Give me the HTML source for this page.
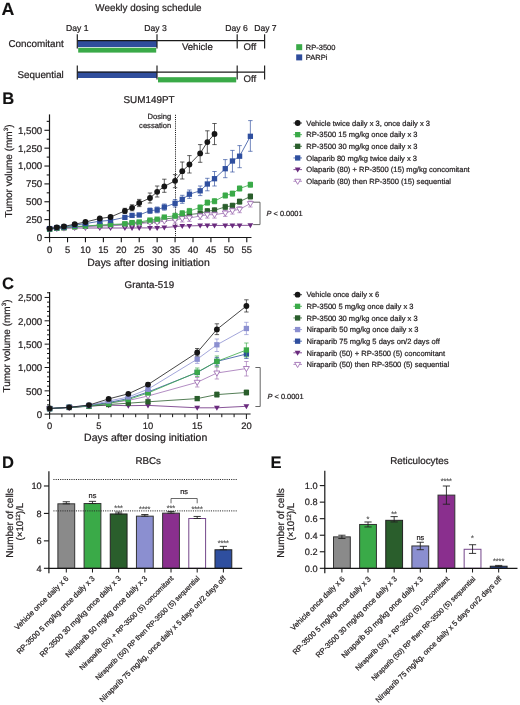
<!DOCTYPE html>
<html><head><meta charset="utf-8"><title>Figure</title>
<style>
html,body{margin:0;padding:0;background:#fff;}
body{width:520px;height:705px;overflow:hidden;}
svg{display:block;font-family:'Liberation Sans', Arial, sans-serif;text-rendering:geometricPrecision;}
text{stroke:#231f20;stroke-width:0.22px;}
</style></head>
<body>
<svg width="520" height="705" viewBox="0 0 520 705">
<rect width="520" height="705" fill="#fff"/>
<text x="1.40" y="14.90" font-size="17.8" text-anchor="start" font-weight="bold" fill="#111" style="stroke-width:0.1px">A</text>
<text x="95.30" y="10.90" font-size="9.9" text-anchor="start" font-weight="normal" fill="#231f20" >Weekly dosing schedule</text>
<text x="77.30" y="30.60" font-size="8.6" text-anchor="middle" font-weight="normal" fill="#231f20" >Day 1</text>
<text x="155.60" y="30.60" font-size="8.6" text-anchor="middle" font-weight="normal" fill="#231f20" >Day 3</text>
<text x="236.60" y="30.60" font-size="8.6" text-anchor="middle" font-weight="normal" fill="#231f20" >Day 6</text>
<text x="265.40" y="30.60" font-size="8.6" text-anchor="middle" font-weight="normal" fill="#231f20" >Day 7</text>
<text x="8.40" y="47.40" font-size="9.9" text-anchor="start" font-weight="normal" fill="#231f20" >Concomitant</text>
<text x="17.50" y="78.00" font-size="9.8" text-anchor="start" font-weight="normal" fill="#231f20" >Sequential</text>
<rect x="77.50" y="40.30" width="79.50" height="6.80" fill="#2f4d9c" stroke="none" stroke-width="0" />
<rect x="78.20" y="47.80" width="78.00" height="4.80" fill="#3aaa48" stroke="none" stroke-width="0" />
<line x1="77.30" y1="40.60" x2="264.80" y2="40.60" stroke="#1a1a1a" stroke-width="1.2" />
<line x1="77.30" y1="34.20" x2="77.30" y2="48.40" stroke="#222" stroke-width="1.2" />
<line x1="157.00" y1="34.20" x2="157.00" y2="48.40" stroke="#222" stroke-width="1.2" />
<line x1="237.20" y1="34.20" x2="237.20" y2="48.40" stroke="#222" stroke-width="1.2" />
<line x1="264.60" y1="34.20" x2="264.60" y2="48.40" stroke="#222" stroke-width="1.2" />
<text x="181.90" y="50.00" font-size="9.6" text-anchor="start" font-weight="normal" fill="#231f20" >Vehicle</text>
<text x="243.60" y="50.00" font-size="9.6" text-anchor="start" font-weight="normal" fill="#231f20" >Off</text>
<rect x="77.50" y="71.70" width="79.50" height="6.30" fill="#2f4d9c" stroke="none" stroke-width="0" />
<rect x="158.00" y="77.20" width="78.20" height="5.20" fill="#3aaa48" stroke="none" stroke-width="0" />
<line x1="77.30" y1="72.20" x2="264.80" y2="72.20" stroke="#1a1a1a" stroke-width="1.2" />
<line x1="77.30" y1="65.40" x2="77.30" y2="79.40" stroke="#222" stroke-width="1.2" />
<line x1="157.00" y1="65.40" x2="157.00" y2="79.40" stroke="#222" stroke-width="1.2" />
<line x1="237.20" y1="65.40" x2="237.20" y2="79.40" stroke="#222" stroke-width="1.2" />
<line x1="264.60" y1="65.40" x2="264.60" y2="79.40" stroke="#222" stroke-width="1.2" />
<text x="243.60" y="81.50" font-size="9.6" text-anchor="start" font-weight="normal" fill="#231f20" >Off</text>
<rect x="296.20" y="44.20" width="6.00" height="6.00" fill="#3aaa48" stroke="none" stroke-width="0" />
<rect x="296.20" y="54.40" width="6.00" height="6.00" fill="#2f4d9c" stroke="none" stroke-width="0" />
<text x="305.80" y="50.20" font-size="7.5" text-anchor="start" font-weight="normal" fill="#231f20" >RP-3500</text>
<text x="305.80" y="60.30" font-size="7.5" text-anchor="start" font-weight="normal" fill="#231f20" >PARPi</text>
<text x="2.30" y="103.90" font-size="16.6" text-anchor="start" font-weight="bold" fill="#111" style="stroke-width:0.1px">B</text>
<text x="149.00" y="102.70" font-size="9.9" text-anchor="middle" font-weight="normal" fill="#231f20" >SUM149PT</text>
<line x1="49.50" y1="114.40" x2="49.50" y2="238.00" stroke="#161616" stroke-width="1.2" />
<line x1="49.00" y1="237.50" x2="251.50" y2="237.50" stroke="#161616" stroke-width="1.2" />
<line x1="44.40" y1="237.50" x2="49.50" y2="237.50" stroke="#161616" stroke-width="1.1" />
<text x="42.20" y="240.90" font-size="9.7" text-anchor="end" font-weight="normal" fill="#231f20" >0</text>
<line x1="46.70" y1="228.57" x2="49.50" y2="228.57" stroke="#161616" stroke-width="1.1" />
<line x1="44.40" y1="219.63" x2="49.50" y2="219.63" stroke="#161616" stroke-width="1.1" />
<text x="42.20" y="223.03" font-size="9.7" text-anchor="end" font-weight="normal" fill="#231f20" >250</text>
<line x1="46.70" y1="210.70" x2="49.50" y2="210.70" stroke="#161616" stroke-width="1.1" />
<line x1="44.40" y1="201.76" x2="49.50" y2="201.76" stroke="#161616" stroke-width="1.1" />
<text x="42.20" y="205.16" font-size="9.7" text-anchor="end" font-weight="normal" fill="#231f20" >500</text>
<line x1="46.70" y1="192.83" x2="49.50" y2="192.83" stroke="#161616" stroke-width="1.1" />
<line x1="44.40" y1="183.90" x2="49.50" y2="183.90" stroke="#161616" stroke-width="1.1" />
<text x="42.20" y="187.30" font-size="9.7" text-anchor="end" font-weight="normal" fill="#231f20" >750</text>
<line x1="46.70" y1="174.96" x2="49.50" y2="174.96" stroke="#161616" stroke-width="1.1" />
<line x1="44.40" y1="166.03" x2="49.50" y2="166.03" stroke="#161616" stroke-width="1.1" />
<text x="42.20" y="169.43" font-size="9.7" text-anchor="end" font-weight="normal" fill="#231f20" >1,000</text>
<line x1="46.70" y1="157.10" x2="49.50" y2="157.10" stroke="#161616" stroke-width="1.1" />
<line x1="44.40" y1="148.16" x2="49.50" y2="148.16" stroke="#161616" stroke-width="1.1" />
<text x="42.20" y="151.56" font-size="9.7" text-anchor="end" font-weight="normal" fill="#231f20" >1,250</text>
<line x1="46.70" y1="139.23" x2="49.50" y2="139.23" stroke="#161616" stroke-width="1.1" />
<line x1="44.40" y1="130.29" x2="49.50" y2="130.29" stroke="#161616" stroke-width="1.1" />
<text x="42.20" y="133.69" font-size="9.7" text-anchor="end" font-weight="normal" fill="#231f20" >1,500</text>
<line x1="46.70" y1="121.36" x2="49.50" y2="121.36" stroke="#161616" stroke-width="1.1" />
<line x1="49.60" y1="237.50" x2="49.60" y2="242.30" stroke="#161616" stroke-width="1.1" />
<text x="49.60" y="253.40" font-size="9.4" text-anchor="middle" font-weight="normal" fill="#231f20" >0</text>
<line x1="67.53" y1="237.50" x2="67.53" y2="242.30" stroke="#161616" stroke-width="1.1" />
<text x="67.53" y="253.40" font-size="9.4" text-anchor="middle" font-weight="normal" fill="#231f20" >5</text>
<line x1="85.45" y1="237.50" x2="85.45" y2="242.30" stroke="#161616" stroke-width="1.1" />
<text x="85.45" y="253.40" font-size="9.4" text-anchor="middle" font-weight="normal" fill="#231f20" >10</text>
<line x1="103.38" y1="237.50" x2="103.38" y2="242.30" stroke="#161616" stroke-width="1.1" />
<text x="103.38" y="253.40" font-size="9.4" text-anchor="middle" font-weight="normal" fill="#231f20" >15</text>
<line x1="121.30" y1="237.50" x2="121.30" y2="242.30" stroke="#161616" stroke-width="1.1" />
<text x="121.30" y="253.40" font-size="9.4" text-anchor="middle" font-weight="normal" fill="#231f20" >20</text>
<line x1="139.22" y1="237.50" x2="139.22" y2="242.30" stroke="#161616" stroke-width="1.1" />
<text x="139.22" y="253.40" font-size="9.4" text-anchor="middle" font-weight="normal" fill="#231f20" >25</text>
<line x1="157.15" y1="237.50" x2="157.15" y2="242.30" stroke="#161616" stroke-width="1.1" />
<text x="157.15" y="253.40" font-size="9.4" text-anchor="middle" font-weight="normal" fill="#231f20" >30</text>
<line x1="175.07" y1="237.50" x2="175.07" y2="242.30" stroke="#161616" stroke-width="1.1" />
<text x="175.07" y="253.40" font-size="9.4" text-anchor="middle" font-weight="normal" fill="#231f20" >35</text>
<line x1="193.00" y1="237.50" x2="193.00" y2="242.30" stroke="#161616" stroke-width="1.1" />
<text x="193.00" y="253.40" font-size="9.4" text-anchor="middle" font-weight="normal" fill="#231f20" >40</text>
<line x1="210.92" y1="237.50" x2="210.92" y2="242.30" stroke="#161616" stroke-width="1.1" />
<text x="210.92" y="253.40" font-size="9.4" text-anchor="middle" font-weight="normal" fill="#231f20" >45</text>
<line x1="228.85" y1="237.50" x2="228.85" y2="242.30" stroke="#161616" stroke-width="1.1" />
<text x="228.85" y="253.40" font-size="9.4" text-anchor="middle" font-weight="normal" fill="#231f20" >50</text>
<line x1="246.78" y1="237.50" x2="246.78" y2="242.30" stroke="#161616" stroke-width="1.1" />
<text x="246.78" y="253.40" font-size="9.4" text-anchor="middle" font-weight="normal" fill="#231f20" >55</text>
<text x="87.30" y="265.60" font-size="10.45" text-anchor="start" font-weight="normal" fill="#231f20" >Days after dosing initiation</text>
<text transform="translate(12.0,217.6) rotate(-90)" font-size="10" fill="#231f20">Tumor volume (mm<tspan font-size="6.2" dy="-3.6">3</tspan><tspan dy="3.6">)</tspan></text>
<line x1="175.50" y1="114.80" x2="175.50" y2="237.00" stroke="#111" stroke-width="1.0" stroke-dasharray="1.05,1.1"/>
<text x="171.20" y="119.30" font-size="7.6" text-anchor="end" font-weight="normal" fill="#231f20" >Dosing</text>
<text x="171.20" y="128.40" font-size="7.6" text-anchor="end" font-weight="normal" fill="#231f20" >cessation</text>
<polyline points="49.60,229.10 56.77,228.20 63.94,227.80 74.69,226.80 85.45,226.30 99.79,225.50 110.55,225.20 124.88,224.40 132.06,223.40 139.22,223.00 149.98,221.40 157.15,220.80 164.32,219.00 175.07,217.80 182.25,216.00 189.41,214.50 200.17,213.40 207.34,211.10 214.51,210.30 225.26,206.90 232.44,205.70 239.60,201.60 250.36,196.50" fill="none" stroke="#2a5e2c" stroke-width="0.8"/>
<path d="M197.97,210.80H202.37M200.17,210.80V216.00M197.97,216.00H202.37" stroke="#2a5e2c" stroke-width="0.85" stroke-opacity="0.8" fill="none"/>
<path d="M205.14,208.50H209.54M207.34,208.50V213.70M205.14,213.70H209.54" stroke="#2a5e2c" stroke-width="0.85" stroke-opacity="0.8" fill="none"/>
<path d="M212.31,207.70H216.71M214.51,207.70V212.90M212.31,212.90H216.71" stroke="#2a5e2c" stroke-width="0.85" stroke-opacity="0.8" fill="none"/>
<path d="M223.06,204.30H227.46M225.26,204.30V209.50M223.06,209.50H227.46" stroke="#2a5e2c" stroke-width="0.85" stroke-opacity="0.8" fill="none"/>
<path d="M230.24,203.10H234.63M232.44,203.10V208.30M230.24,208.30H234.63" stroke="#2a5e2c" stroke-width="0.85" stroke-opacity="0.8" fill="none"/>
<path d="M237.41,199.00H241.80M239.60,199.00V204.20M237.41,204.20H241.80" stroke="#2a5e2c" stroke-width="0.85" stroke-opacity="0.8" fill="none"/>
<path d="M248.16,193.90H252.56M250.36,193.90V199.10M248.16,199.10H252.56" stroke="#2a5e2c" stroke-width="0.85" stroke-opacity="0.8" fill="none"/>
<rect x="46.95" y="226.45" width="5.30" height="5.30" fill="#2a5e2c"/>
<rect x="54.12" y="225.55" width="5.30" height="5.30" fill="#2a5e2c"/>
<rect x="61.29" y="225.15" width="5.30" height="5.30" fill="#2a5e2c"/>
<rect x="72.04" y="224.15" width="5.30" height="5.30" fill="#2a5e2c"/>
<rect x="82.80" y="223.65" width="5.30" height="5.30" fill="#2a5e2c"/>
<rect x="97.14" y="222.85" width="5.30" height="5.30" fill="#2a5e2c"/>
<rect x="107.89" y="222.55" width="5.30" height="5.30" fill="#2a5e2c"/>
<rect x="122.23" y="221.75" width="5.30" height="5.30" fill="#2a5e2c"/>
<rect x="129.41" y="220.75" width="5.30" height="5.30" fill="#2a5e2c"/>
<rect x="136.57" y="220.35" width="5.30" height="5.30" fill="#2a5e2c"/>
<rect x="147.33" y="218.75" width="5.30" height="5.30" fill="#2a5e2c"/>
<rect x="154.50" y="218.15" width="5.30" height="5.30" fill="#2a5e2c"/>
<rect x="161.67" y="216.35" width="5.30" height="5.30" fill="#2a5e2c"/>
<rect x="172.42" y="215.15" width="5.30" height="5.30" fill="#2a5e2c"/>
<rect x="179.59" y="213.35" width="5.30" height="5.30" fill="#2a5e2c"/>
<rect x="186.76" y="211.85" width="5.30" height="5.30" fill="#2a5e2c"/>
<rect x="197.52" y="210.75" width="5.30" height="5.30" fill="#2a5e2c"/>
<rect x="204.69" y="208.45" width="5.30" height="5.30" fill="#2a5e2c"/>
<rect x="211.86" y="207.65" width="5.30" height="5.30" fill="#2a5e2c"/>
<rect x="222.61" y="204.25" width="5.30" height="5.30" fill="#2a5e2c"/>
<rect x="229.78" y="203.05" width="5.30" height="5.30" fill="#2a5e2c"/>
<rect x="236.95" y="198.95" width="5.30" height="5.30" fill="#2a5e2c"/>
<rect x="247.71" y="193.85" width="5.30" height="5.30" fill="#2a5e2c"/>
<polyline points="49.60,229.20 56.77,228.40 63.94,228.20 74.69,228.00 85.45,228.00 99.79,228.00 110.55,228.00 124.88,228.00 132.06,228.00 139.22,227.90 149.98,227.90 157.15,228.00 164.32,227.50 175.07,226.70 182.25,225.90 189.41,225.90 200.17,225.60 207.34,225.50 214.51,225.40 225.26,225.50 232.44,225.40 239.60,225.40 250.36,225.30" fill="none" stroke="#6a2a7e" stroke-width="0.8"/>
<polygon points="46.70,227.20 52.50,227.20 49.60,232.20" fill="#6a2a7e"/>
<polygon points="53.87,226.40 59.67,226.40 56.77,231.40" fill="#6a2a7e"/>
<polygon points="61.04,226.20 66.84,226.20 63.94,231.20" fill="#6a2a7e"/>
<polygon points="71.79,226.00 77.59,226.00 74.69,231.00" fill="#6a2a7e"/>
<polygon points="82.55,226.00 88.35,226.00 85.45,231.00" fill="#6a2a7e"/>
<polygon points="96.89,226.00 102.69,226.00 99.79,231.00" fill="#6a2a7e"/>
<polygon points="107.64,226.00 113.45,226.00 110.55,231.00" fill="#6a2a7e"/>
<polygon points="121.98,226.00 127.78,226.00 124.88,231.00" fill="#6a2a7e"/>
<polygon points="129.16,226.00 134.96,226.00 132.06,231.00" fill="#6a2a7e"/>
<polygon points="136.32,225.90 142.12,225.90 139.22,230.90" fill="#6a2a7e"/>
<polygon points="147.08,225.90 152.88,225.90 149.98,230.90" fill="#6a2a7e"/>
<polygon points="154.25,226.00 160.05,226.00 157.15,231.00" fill="#6a2a7e"/>
<polygon points="161.42,225.50 167.22,225.50 164.32,230.50" fill="#6a2a7e"/>
<polygon points="172.17,224.70 177.97,224.70 175.07,229.70" fill="#6a2a7e"/>
<polygon points="179.34,223.90 185.15,223.90 182.25,228.90" fill="#6a2a7e"/>
<polygon points="186.51,223.90 192.31,223.90 189.41,228.90" fill="#6a2a7e"/>
<polygon points="197.27,223.60 203.07,223.60 200.17,228.60" fill="#6a2a7e"/>
<polygon points="204.44,223.50 210.24,223.50 207.34,228.50" fill="#6a2a7e"/>
<polygon points="211.61,223.40 217.41,223.40 214.51,228.40" fill="#6a2a7e"/>
<polygon points="222.36,223.50 228.16,223.50 225.26,228.50" fill="#6a2a7e"/>
<polygon points="229.53,223.40 235.34,223.40 232.44,228.40" fill="#6a2a7e"/>
<polygon points="236.70,223.40 242.50,223.40 239.60,228.40" fill="#6a2a7e"/>
<polygon points="247.46,223.30 253.26,223.30 250.36,228.30" fill="#6a2a7e"/>
<polyline points="49.60,229.20 56.77,228.40 63.94,228.00 74.69,227.00 85.45,226.60 99.79,226.00 110.55,225.80 124.88,225.00 132.06,224.00 139.22,223.60 149.98,222.60 157.15,222.40 164.32,221.00 175.07,219.80 182.25,218.60 189.41,218.00 200.17,216.00 207.34,214.70 214.51,214.70 225.26,213.00 232.44,210.70 239.60,209.30 250.36,203.60" fill="none" stroke="#a070b4" stroke-width="0.8"/>
<path d="M172.88,217.20H177.27M175.07,217.20V223.20M172.88,223.20H177.27" stroke="#a070b4" stroke-width="0.85" stroke-opacity="0.8" fill="none"/>
<path d="M180.05,216.00H184.44M182.25,216.00V222.00M180.05,222.00H184.44" stroke="#a070b4" stroke-width="0.85" stroke-opacity="0.8" fill="none"/>
<path d="M187.22,215.40H191.61M189.41,215.40V221.40M187.22,221.40H191.61" stroke="#a070b4" stroke-width="0.85" stroke-opacity="0.8" fill="none"/>
<path d="M197.97,213.40H202.37M200.17,213.40V219.40M197.97,219.40H202.37" stroke="#a070b4" stroke-width="0.85" stroke-opacity="0.8" fill="none"/>
<path d="M205.14,212.10H209.54M207.34,212.10V218.10M205.14,218.10H209.54" stroke="#a070b4" stroke-width="0.85" stroke-opacity="0.8" fill="none"/>
<path d="M212.31,212.10H216.71M214.51,212.10V218.10M212.31,218.10H216.71" stroke="#a070b4" stroke-width="0.85" stroke-opacity="0.8" fill="none"/>
<path d="M223.06,210.40H227.46M225.26,210.40V216.40M223.06,216.40H227.46" stroke="#a070b4" stroke-width="0.85" stroke-opacity="0.8" fill="none"/>
<path d="M230.24,208.10H234.63M232.44,208.10V214.10M230.24,214.10H234.63" stroke="#a070b4" stroke-width="0.85" stroke-opacity="0.8" fill="none"/>
<path d="M237.41,206.70H241.80M239.60,206.70V212.70M237.41,212.70H241.80" stroke="#a070b4" stroke-width="0.85" stroke-opacity="0.8" fill="none"/>
<path d="M248.16,201.00H252.56M250.36,201.00V207.00M248.16,207.00H252.56" stroke="#a070b4" stroke-width="0.85" stroke-opacity="0.8" fill="none"/>
<polygon points="46.60,227.20 52.60,227.20 49.60,232.30" fill="#fff" stroke="#a070b4" stroke-width="0.9"/>
<polygon points="53.77,226.40 59.77,226.40 56.77,231.50" fill="#fff" stroke="#a070b4" stroke-width="0.9"/>
<polygon points="60.94,226.00 66.94,226.00 63.94,231.10" fill="#fff" stroke="#a070b4" stroke-width="0.9"/>
<polygon points="71.69,225.00 77.69,225.00 74.69,230.10" fill="#fff" stroke="#a070b4" stroke-width="0.9"/>
<polygon points="82.45,224.60 88.45,224.60 85.45,229.70" fill="#fff" stroke="#a070b4" stroke-width="0.9"/>
<polygon points="96.79,224.00 102.79,224.00 99.79,229.10" fill="#fff" stroke="#a070b4" stroke-width="0.9"/>
<polygon points="107.55,223.80 113.55,223.80 110.55,228.90" fill="#fff" stroke="#a070b4" stroke-width="0.9"/>
<polygon points="121.88,223.00 127.88,223.00 124.88,228.10" fill="#fff" stroke="#a070b4" stroke-width="0.9"/>
<polygon points="129.06,222.00 135.06,222.00 132.06,227.10" fill="#fff" stroke="#a070b4" stroke-width="0.9"/>
<polygon points="136.22,221.60 142.22,221.60 139.22,226.70" fill="#fff" stroke="#a070b4" stroke-width="0.9"/>
<polygon points="146.98,220.60 152.98,220.60 149.98,225.70" fill="#fff" stroke="#a070b4" stroke-width="0.9"/>
<polygon points="154.15,220.40 160.15,220.40 157.15,225.50" fill="#fff" stroke="#a070b4" stroke-width="0.9"/>
<polygon points="161.32,219.00 167.32,219.00 164.32,224.10" fill="#fff" stroke="#a070b4" stroke-width="0.9"/>
<polygon points="172.07,217.80 178.07,217.80 175.07,222.90" fill="#fff" stroke="#a070b4" stroke-width="0.9"/>
<polygon points="179.25,216.60 185.25,216.60 182.25,221.70" fill="#fff" stroke="#a070b4" stroke-width="0.9"/>
<polygon points="186.41,216.00 192.41,216.00 189.41,221.10" fill="#fff" stroke="#a070b4" stroke-width="0.9"/>
<polygon points="197.17,214.00 203.17,214.00 200.17,219.10" fill="#fff" stroke="#a070b4" stroke-width="0.9"/>
<polygon points="204.34,212.70 210.34,212.70 207.34,217.80" fill="#fff" stroke="#a070b4" stroke-width="0.9"/>
<polygon points="211.51,212.70 217.51,212.70 214.51,217.80" fill="#fff" stroke="#a070b4" stroke-width="0.9"/>
<polygon points="222.26,211.00 228.26,211.00 225.26,216.10" fill="#fff" stroke="#a070b4" stroke-width="0.9"/>
<polygon points="229.44,208.70 235.44,208.70 232.44,213.80" fill="#fff" stroke="#a070b4" stroke-width="0.9"/>
<polygon points="236.60,207.30 242.60,207.30 239.60,212.40" fill="#fff" stroke="#a070b4" stroke-width="0.9"/>
<polygon points="247.36,201.60 253.36,201.60 250.36,206.70" fill="#fff" stroke="#a070b4" stroke-width="0.9"/>
<polyline points="49.60,229.00 56.77,228.00 63.94,227.50 74.69,226.50 85.45,226.00 99.79,225.00 110.55,224.50 124.88,223.80 132.06,222.60 139.22,222.00 149.98,220.10 157.15,219.20 164.32,217.10 175.07,215.80 182.25,213.30 189.41,211.00 200.17,207.50 207.34,202.60 214.51,201.20 225.26,195.50 232.44,193.60 239.60,188.50 250.36,184.70" fill="none" stroke="#3aaa48" stroke-width="0.8"/>
<path d="M172.88,213.20H177.27M175.07,213.20V218.40M172.88,218.40H177.27" stroke="#3aaa48" stroke-width="0.85" stroke-opacity="0.8" fill="none"/>
<path d="M180.05,210.70H184.44M182.25,210.70V215.90M180.05,215.90H184.44" stroke="#3aaa48" stroke-width="0.85" stroke-opacity="0.8" fill="none"/>
<path d="M187.22,208.40H191.61M189.41,208.40V213.60M187.22,213.60H191.61" stroke="#3aaa48" stroke-width="0.85" stroke-opacity="0.8" fill="none"/>
<path d="M197.97,204.90H202.37M200.17,204.90V210.10M197.97,210.10H202.37" stroke="#3aaa48" stroke-width="0.85" stroke-opacity="0.8" fill="none"/>
<path d="M205.14,200.00H209.54M207.34,200.00V205.20M205.14,205.20H209.54" stroke="#3aaa48" stroke-width="0.85" stroke-opacity="0.8" fill="none"/>
<path d="M212.31,198.60H216.71M214.51,198.60V203.80M212.31,203.80H216.71" stroke="#3aaa48" stroke-width="0.85" stroke-opacity="0.8" fill="none"/>
<path d="M223.06,192.90H227.46M225.26,192.90V198.10M223.06,198.10H227.46" stroke="#3aaa48" stroke-width="0.85" stroke-opacity="0.8" fill="none"/>
<path d="M230.24,191.00H234.63M232.44,191.00V196.20M230.24,196.20H234.63" stroke="#3aaa48" stroke-width="0.85" stroke-opacity="0.8" fill="none"/>
<path d="M237.41,185.90H241.80M239.60,185.90V191.10M237.41,191.10H241.80" stroke="#3aaa48" stroke-width="0.85" stroke-opacity="0.8" fill="none"/>
<path d="M248.16,182.10H252.56M250.36,182.10V187.30M248.16,187.30H252.56" stroke="#3aaa48" stroke-width="0.85" stroke-opacity="0.8" fill="none"/>
<rect x="46.95" y="226.35" width="5.30" height="5.30" fill="#3aaa48"/>
<rect x="54.12" y="225.35" width="5.30" height="5.30" fill="#3aaa48"/>
<rect x="61.29" y="224.85" width="5.30" height="5.30" fill="#3aaa48"/>
<rect x="72.04" y="223.85" width="5.30" height="5.30" fill="#3aaa48"/>
<rect x="82.80" y="223.35" width="5.30" height="5.30" fill="#3aaa48"/>
<rect x="97.14" y="222.35" width="5.30" height="5.30" fill="#3aaa48"/>
<rect x="107.89" y="221.85" width="5.30" height="5.30" fill="#3aaa48"/>
<rect x="122.23" y="221.15" width="5.30" height="5.30" fill="#3aaa48"/>
<rect x="129.41" y="219.95" width="5.30" height="5.30" fill="#3aaa48"/>
<rect x="136.57" y="219.35" width="5.30" height="5.30" fill="#3aaa48"/>
<rect x="147.33" y="217.45" width="5.30" height="5.30" fill="#3aaa48"/>
<rect x="154.50" y="216.55" width="5.30" height="5.30" fill="#3aaa48"/>
<rect x="161.67" y="214.45" width="5.30" height="5.30" fill="#3aaa48"/>
<rect x="172.42" y="213.15" width="5.30" height="5.30" fill="#3aaa48"/>
<rect x="179.59" y="210.65" width="5.30" height="5.30" fill="#3aaa48"/>
<rect x="186.76" y="208.35" width="5.30" height="5.30" fill="#3aaa48"/>
<rect x="197.52" y="204.85" width="5.30" height="5.30" fill="#3aaa48"/>
<rect x="204.69" y="199.95" width="5.30" height="5.30" fill="#3aaa48"/>
<rect x="211.86" y="198.55" width="5.30" height="5.30" fill="#3aaa48"/>
<rect x="222.61" y="192.85" width="5.30" height="5.30" fill="#3aaa48"/>
<rect x="229.78" y="190.95" width="5.30" height="5.30" fill="#3aaa48"/>
<rect x="236.95" y="185.85" width="5.30" height="5.30" fill="#3aaa48"/>
<rect x="247.71" y="182.05" width="5.30" height="5.30" fill="#3aaa48"/>
<polyline points="49.60,228.60 56.77,227.60 63.94,227.00 74.69,225.20 85.45,223.60 99.79,221.20 110.55,220.40 124.88,217.40 132.06,215.40 139.22,215.00 149.98,210.70 157.15,209.90 164.32,207.10 175.07,203.30 182.25,199.40 189.41,194.20 200.17,190.80 207.34,184.00 214.51,178.70 225.26,168.70 232.44,161.00 239.60,156.20 250.36,136.30" fill="none" stroke="#2f4f9f" stroke-width="0.8"/>
<path d="M147.78,208.00H152.18M149.98,208.00V213.40M147.78,213.40H152.18" stroke="#2f4f9f" stroke-width="0.85" stroke-opacity="0.8" fill="none"/>
<path d="M154.95,207.00H159.35M157.15,207.00V212.80M154.95,212.80H159.35" stroke="#2f4f9f" stroke-width="0.85" stroke-opacity="0.8" fill="none"/>
<path d="M162.12,204.00H166.52M164.32,204.00V210.20M162.12,210.20H166.52" stroke="#2f4f9f" stroke-width="0.85" stroke-opacity="0.8" fill="none"/>
<path d="M172.88,199.50H177.27M175.07,199.50V207.00M172.88,207.00H177.27" stroke="#2f4f9f" stroke-width="0.85" stroke-opacity="0.8" fill="none"/>
<path d="M180.05,195.30H184.44M182.25,195.30V203.30M180.05,203.30H184.44" stroke="#2f4f9f" stroke-width="0.85" stroke-opacity="0.8" fill="none"/>
<path d="M187.22,190.00H191.61M189.41,190.00V198.40M187.22,198.40H191.61" stroke="#2f4f9f" stroke-width="0.85" stroke-opacity="0.8" fill="none"/>
<path d="M197.97,186.00H202.37M200.17,186.00V195.60M197.97,195.60H202.37" stroke="#2f4f9f" stroke-width="0.85" stroke-opacity="0.8" fill="none"/>
<path d="M205.14,178.30H209.54M207.34,178.30V190.80M205.14,190.80H209.54" stroke="#2f4f9f" stroke-width="0.85" stroke-opacity="0.8" fill="none"/>
<path d="M212.31,171.50H216.71M214.51,171.50V186.00M212.31,186.00H216.71" stroke="#2f4f9f" stroke-width="0.85" stroke-opacity="0.8" fill="none"/>
<path d="M223.06,159.60H227.46M225.26,159.60V177.70M223.06,177.70H227.46" stroke="#2f4f9f" stroke-width="0.85" stroke-opacity="0.8" fill="none"/>
<path d="M230.24,150.40H234.63M232.44,150.40V172.00M230.24,172.00H234.63" stroke="#2f4f9f" stroke-width="0.85" stroke-opacity="0.8" fill="none"/>
<path d="M237.41,145.60H241.80M239.60,145.60V167.70M237.41,167.70H241.80" stroke="#2f4f9f" stroke-width="0.85" stroke-opacity="0.8" fill="none"/>
<path d="M248.16,120.60H252.56M250.36,120.60V151.30M248.16,151.30H252.56" stroke="#2f4f9f" stroke-width="0.85" stroke-opacity="0.8" fill="none"/>
<rect x="46.95" y="225.95" width="5.30" height="5.30" fill="#2f4f9f"/>
<rect x="54.12" y="224.95" width="5.30" height="5.30" fill="#2f4f9f"/>
<rect x="61.29" y="224.35" width="5.30" height="5.30" fill="#2f4f9f"/>
<rect x="72.04" y="222.55" width="5.30" height="5.30" fill="#2f4f9f"/>
<rect x="82.80" y="220.95" width="5.30" height="5.30" fill="#2f4f9f"/>
<rect x="97.14" y="218.55" width="5.30" height="5.30" fill="#2f4f9f"/>
<rect x="107.89" y="217.75" width="5.30" height="5.30" fill="#2f4f9f"/>
<rect x="122.23" y="214.75" width="5.30" height="5.30" fill="#2f4f9f"/>
<rect x="129.41" y="212.75" width="5.30" height="5.30" fill="#2f4f9f"/>
<rect x="136.57" y="212.35" width="5.30" height="5.30" fill="#2f4f9f"/>
<rect x="147.33" y="208.05" width="5.30" height="5.30" fill="#2f4f9f"/>
<rect x="154.50" y="207.25" width="5.30" height="5.30" fill="#2f4f9f"/>
<rect x="161.67" y="204.45" width="5.30" height="5.30" fill="#2f4f9f"/>
<rect x="172.42" y="200.65" width="5.30" height="5.30" fill="#2f4f9f"/>
<rect x="179.59" y="196.75" width="5.30" height="5.30" fill="#2f4f9f"/>
<rect x="186.76" y="191.55" width="5.30" height="5.30" fill="#2f4f9f"/>
<rect x="197.52" y="188.15" width="5.30" height="5.30" fill="#2f4f9f"/>
<rect x="204.69" y="181.35" width="5.30" height="5.30" fill="#2f4f9f"/>
<rect x="211.86" y="176.05" width="5.30" height="5.30" fill="#2f4f9f"/>
<rect x="222.61" y="166.05" width="5.30" height="5.30" fill="#2f4f9f"/>
<rect x="229.78" y="158.35" width="5.30" height="5.30" fill="#2f4f9f"/>
<rect x="236.95" y="153.55" width="5.30" height="5.30" fill="#2f4f9f"/>
<rect x="247.71" y="133.65" width="5.30" height="5.30" fill="#2f4f9f"/>
<polyline points="49.60,228.60 56.77,227.30 63.94,226.40 74.69,224.20 85.45,222.00 99.79,218.50 110.55,217.00 124.88,210.90 132.06,207.80 139.22,203.00 149.98,198.00 157.15,191.80 164.32,186.40 175.07,180.80 182.25,171.20 189.41,164.50 200.17,153.40 207.34,142.10 214.51,134.00" fill="none" stroke="#161616" stroke-width="0.8"/>
<path d="M122.68,208.30H127.08M124.88,208.30V213.50M122.68,213.50H127.08" stroke="#161616" stroke-width="0.85" stroke-opacity="0.8" fill="none"/>
<path d="M129.86,204.80H134.25M132.06,204.80V210.80M129.86,210.80H134.25" stroke="#161616" stroke-width="0.85" stroke-opacity="0.8" fill="none"/>
<path d="M137.03,199.40H141.42M139.22,199.40V206.60M137.03,206.60H141.42" stroke="#161616" stroke-width="0.85" stroke-opacity="0.8" fill="none"/>
<path d="M147.78,193.00H152.18M149.98,193.00V203.00M147.78,203.00H152.18" stroke="#161616" stroke-width="0.85" stroke-opacity="0.8" fill="none"/>
<path d="M154.95,186.00H159.35M157.15,186.00V197.00M154.95,197.00H159.35" stroke="#161616" stroke-width="0.85" stroke-opacity="0.8" fill="none"/>
<path d="M162.12,179.20H166.52M164.32,179.20V192.30M162.12,192.30H166.52" stroke="#161616" stroke-width="0.85" stroke-opacity="0.8" fill="none"/>
<path d="M172.88,174.60H177.27M175.07,174.60V187.70M172.88,187.70H177.27" stroke="#161616" stroke-width="0.85" stroke-opacity="0.8" fill="none"/>
<path d="M180.05,162.00H184.44M182.25,162.00V179.00M180.05,179.00H184.44" stroke="#161616" stroke-width="0.85" stroke-opacity="0.8" fill="none"/>
<path d="M187.22,155.60H191.61M189.41,155.60V173.00M187.22,173.00H191.61" stroke="#161616" stroke-width="0.85" stroke-opacity="0.8" fill="none"/>
<path d="M197.97,144.60H202.37M200.17,144.60V162.30M197.97,162.30H202.37" stroke="#161616" stroke-width="0.85" stroke-opacity="0.8" fill="none"/>
<path d="M205.14,130.80H209.54M207.34,130.80V153.30M205.14,153.30H209.54" stroke="#161616" stroke-width="0.85" stroke-opacity="0.8" fill="none"/>
<path d="M212.31,123.50H216.71M214.51,123.50V144.60M212.31,144.60H216.71" stroke="#161616" stroke-width="0.85" stroke-opacity="0.8" fill="none"/>
<circle cx="49.60" cy="228.60" r="2.90" fill="#161616"/>
<circle cx="56.77" cy="227.30" r="2.90" fill="#161616"/>
<circle cx="63.94" cy="226.40" r="2.90" fill="#161616"/>
<circle cx="74.69" cy="224.20" r="2.90" fill="#161616"/>
<circle cx="85.45" cy="222.00" r="2.90" fill="#161616"/>
<circle cx="99.79" cy="218.50" r="2.90" fill="#161616"/>
<circle cx="110.55" cy="217.00" r="2.90" fill="#161616"/>
<circle cx="124.88" cy="210.90" r="2.90" fill="#161616"/>
<circle cx="132.06" cy="207.80" r="2.90" fill="#161616"/>
<circle cx="139.22" cy="203.00" r="2.90" fill="#161616"/>
<circle cx="149.98" cy="198.00" r="2.90" fill="#161616"/>
<circle cx="157.15" cy="191.80" r="2.90" fill="#161616"/>
<circle cx="164.32" cy="186.40" r="2.90" fill="#161616"/>
<circle cx="175.07" cy="180.80" r="2.90" fill="#161616"/>
<circle cx="182.25" cy="171.20" r="2.90" fill="#161616"/>
<circle cx="189.41" cy="164.50" r="2.90" fill="#161616"/>
<circle cx="200.17" cy="153.40" r="2.90" fill="#161616"/>
<circle cx="207.34" cy="142.10" r="2.90" fill="#161616"/>
<circle cx="214.51" cy="134.00" r="2.90" fill="#161616"/>
<path d="M253.2,202.2H260.0V224.6H253.2" fill="none" stroke="#555" stroke-width="0.9"/>
<text x="266.6" y="215.9" font-size="7.4" fill="#231f20"><tspan font-style="italic">P</tspan> &lt; 0.0001</text>
<line x1="293.40" y1="123.00" x2="302.00" y2="123.00" stroke="#161616" stroke-width="0.8" />
<circle cx="297.70" cy="123.00" r="2.90" fill="#161616"/>
<text x="306.30" y="125.70" font-size="7.55" text-anchor="start" font-weight="normal" fill="#231f20" >Vehicle twice daily x 3, once daily x 3</text>
<line x1="293.40" y1="134.65" x2="302.00" y2="134.65" stroke="#3aaa48" stroke-width="0.8" />
<rect x="295.05" y="132.00" width="5.30" height="5.30" fill="#3aaa48"/>
<text x="306.30" y="137.35" font-size="7.55" text-anchor="start" font-weight="normal" fill="#231f20" >RP-3500 15 mg/kg once daily x 3</text>
<line x1="293.40" y1="146.30" x2="302.00" y2="146.30" stroke="#2a5e2c" stroke-width="0.8" />
<rect x="295.05" y="143.65" width="5.30" height="5.30" fill="#2a5e2c"/>
<text x="306.30" y="149.00" font-size="7.55" text-anchor="start" font-weight="normal" fill="#231f20" >RP-3500 30 mg/kg once daily x 3</text>
<line x1="293.40" y1="157.95" x2="302.00" y2="157.95" stroke="#2f4f9f" stroke-width="0.8" />
<rect x="295.05" y="155.30" width="5.30" height="5.30" fill="#2f4f9f"/>
<text x="306.30" y="160.65" font-size="7.55" text-anchor="start" font-weight="normal" fill="#231f20" >Olaparib 80 mg/kg twice daily x 3</text>
<line x1="293.40" y1="169.60" x2="302.00" y2="169.60" stroke="#6a2a7e" stroke-width="0.8" />
<polygon points="294.80,167.60 300.60,167.60 297.70,172.60" fill="#6a2a7e"/>
<text x="306.30" y="172.30" font-size="7.55" text-anchor="start" font-weight="normal" fill="#231f20" >Olaparib (80) + RP-3500 (15) mg/kg concomitant</text>
<line x1="293.40" y1="181.25" x2="302.00" y2="181.25" stroke="#a070b4" stroke-width="0.8" />
<polygon points="294.70,179.25 300.70,179.25 297.70,184.35" fill="#fff" stroke="#a070b4" stroke-width="0.9"/>
<text x="306.30" y="183.95" font-size="7.55" text-anchor="start" font-weight="normal" fill="#231f20" >Olaparib (80) then RP-3500 (15) sequential</text>
<text x="1.90" y="288.60" font-size="16.6" text-anchor="start" font-weight="bold" fill="#111" style="stroke-width:0.1px">C</text>
<text x="149.30" y="288.30" font-size="9.8" text-anchor="middle" font-weight="normal" fill="#231f20" >Granta-519</text>
<line x1="49.60" y1="292.00" x2="49.60" y2="414.50" stroke="#161616" stroke-width="1.2" />
<line x1="49.00" y1="414.00" x2="250.60" y2="414.00" stroke="#161616" stroke-width="1.2" />
<line x1="44.60" y1="414.20" x2="49.60" y2="414.20" stroke="#161616" stroke-width="1.0" />
<text x="42.20" y="418.10" font-size="9.7" text-anchor="end" font-weight="normal" fill="#231f20" >0</text>
<line x1="47.00" y1="409.53" x2="49.60" y2="409.53" stroke="#161616" stroke-width="1.0" />
<line x1="47.00" y1="404.86" x2="49.60" y2="404.86" stroke="#161616" stroke-width="1.0" />
<line x1="47.00" y1="400.19" x2="49.60" y2="400.19" stroke="#161616" stroke-width="1.0" />
<line x1="47.00" y1="395.52" x2="49.60" y2="395.52" stroke="#161616" stroke-width="1.0" />
<line x1="44.60" y1="390.85" x2="49.60" y2="390.85" stroke="#161616" stroke-width="1.0" />
<text x="42.20" y="394.75" font-size="9.7" text-anchor="end" font-weight="normal" fill="#231f20" >500</text>
<line x1="47.00" y1="386.18" x2="49.60" y2="386.18" stroke="#161616" stroke-width="1.0" />
<line x1="47.00" y1="381.51" x2="49.60" y2="381.51" stroke="#161616" stroke-width="1.0" />
<line x1="47.00" y1="376.84" x2="49.60" y2="376.84" stroke="#161616" stroke-width="1.0" />
<line x1="47.00" y1="372.17" x2="49.60" y2="372.17" stroke="#161616" stroke-width="1.0" />
<line x1="44.60" y1="367.50" x2="49.60" y2="367.50" stroke="#161616" stroke-width="1.0" />
<text x="42.20" y="371.40" font-size="9.7" text-anchor="end" font-weight="normal" fill="#231f20" >1,000</text>
<line x1="47.00" y1="362.83" x2="49.60" y2="362.83" stroke="#161616" stroke-width="1.0" />
<line x1="47.00" y1="358.16" x2="49.60" y2="358.16" stroke="#161616" stroke-width="1.0" />
<line x1="47.00" y1="353.49" x2="49.60" y2="353.49" stroke="#161616" stroke-width="1.0" />
<line x1="47.00" y1="348.82" x2="49.60" y2="348.82" stroke="#161616" stroke-width="1.0" />
<line x1="44.60" y1="344.15" x2="49.60" y2="344.15" stroke="#161616" stroke-width="1.0" />
<text x="42.20" y="348.05" font-size="9.7" text-anchor="end" font-weight="normal" fill="#231f20" >1,500</text>
<line x1="47.00" y1="339.48" x2="49.60" y2="339.48" stroke="#161616" stroke-width="1.0" />
<line x1="47.00" y1="334.81" x2="49.60" y2="334.81" stroke="#161616" stroke-width="1.0" />
<line x1="47.00" y1="330.14" x2="49.60" y2="330.14" stroke="#161616" stroke-width="1.0" />
<line x1="47.00" y1="325.47" x2="49.60" y2="325.47" stroke="#161616" stroke-width="1.0" />
<line x1="44.60" y1="320.80" x2="49.60" y2="320.80" stroke="#161616" stroke-width="1.0" />
<text x="42.20" y="324.70" font-size="9.7" text-anchor="end" font-weight="normal" fill="#231f20" >2,000</text>
<line x1="47.00" y1="316.13" x2="49.60" y2="316.13" stroke="#161616" stroke-width="1.0" />
<line x1="47.00" y1="311.46" x2="49.60" y2="311.46" stroke="#161616" stroke-width="1.0" />
<line x1="47.00" y1="306.79" x2="49.60" y2="306.79" stroke="#161616" stroke-width="1.0" />
<line x1="47.00" y1="302.12" x2="49.60" y2="302.12" stroke="#161616" stroke-width="1.0" />
<line x1="44.60" y1="297.45" x2="49.60" y2="297.45" stroke="#161616" stroke-width="1.0" />
<text x="42.20" y="301.35" font-size="9.7" text-anchor="end" font-weight="normal" fill="#231f20" >2,500</text>
<line x1="47.00" y1="292.78" x2="49.60" y2="292.78" stroke="#161616" stroke-width="1.0" />
<line x1="49.60" y1="414.00" x2="49.60" y2="419.00" stroke="#161616" stroke-width="1.0" />
<text x="49.60" y="429.10" font-size="9.4" text-anchor="middle" font-weight="normal" fill="#231f20" >0</text>
<line x1="61.90" y1="414.00" x2="61.90" y2="417.20" stroke="#161616" stroke-width="1.0" />
<line x1="74.20" y1="414.00" x2="74.20" y2="417.20" stroke="#161616" stroke-width="1.0" />
<line x1="86.50" y1="414.00" x2="86.50" y2="417.20" stroke="#161616" stroke-width="1.0" />
<line x1="98.80" y1="414.00" x2="98.80" y2="419.00" stroke="#161616" stroke-width="1.0" />
<text x="98.80" y="429.10" font-size="9.4" text-anchor="middle" font-weight="normal" fill="#231f20" >5</text>
<line x1="111.10" y1="414.00" x2="111.10" y2="417.20" stroke="#161616" stroke-width="1.0" />
<line x1="123.40" y1="414.00" x2="123.40" y2="417.20" stroke="#161616" stroke-width="1.0" />
<line x1="135.70" y1="414.00" x2="135.70" y2="417.20" stroke="#161616" stroke-width="1.0" />
<line x1="148.00" y1="414.00" x2="148.00" y2="419.00" stroke="#161616" stroke-width="1.0" />
<text x="148.00" y="429.10" font-size="9.4" text-anchor="middle" font-weight="normal" fill="#231f20" >10</text>
<line x1="160.30" y1="414.00" x2="160.30" y2="417.20" stroke="#161616" stroke-width="1.0" />
<line x1="172.60" y1="414.00" x2="172.60" y2="417.20" stroke="#161616" stroke-width="1.0" />
<line x1="184.90" y1="414.00" x2="184.90" y2="417.20" stroke="#161616" stroke-width="1.0" />
<line x1="197.20" y1="414.00" x2="197.20" y2="419.00" stroke="#161616" stroke-width="1.0" />
<text x="197.20" y="429.10" font-size="9.4" text-anchor="middle" font-weight="normal" fill="#231f20" >15</text>
<line x1="209.50" y1="414.00" x2="209.50" y2="417.20" stroke="#161616" stroke-width="1.0" />
<line x1="221.80" y1="414.00" x2="221.80" y2="417.20" stroke="#161616" stroke-width="1.0" />
<line x1="234.10" y1="414.00" x2="234.10" y2="417.20" stroke="#161616" stroke-width="1.0" />
<line x1="246.40" y1="414.00" x2="246.40" y2="419.00" stroke="#161616" stroke-width="1.0" />
<text x="246.40" y="429.10" font-size="9.4" text-anchor="middle" font-weight="normal" fill="#231f20" >20</text>
<text x="84.10" y="440.60" font-size="10.5" text-anchor="start" font-weight="normal" fill="#231f20" >Days after dosing initiation</text>
<text transform="translate(9.5,392.6) rotate(-90)" font-size="10" fill="#231f20">Tumor volume (mm<tspan font-size="6.2" dy="-3.6">3</tspan><tspan dy="3.6">)</tspan></text>
<polyline points="49.60,408.60 69.28,407.60 88.96,406.00 108.64,403.00 128.32,400.50 148.00,396.00 197.20,382.30 216.88,373.00 246.40,368.50" fill="none" stroke="#a070b4" stroke-width="0.8"/>
<path d="M195.00,377.50H199.40M197.20,377.50V387.00M195.00,387.00H199.40" stroke="#a070b4" stroke-width="0.85" stroke-opacity="0.8" fill="none"/>
<path d="M214.68,367.00H219.08M216.88,367.00V379.00M214.68,379.00H219.08" stroke="#a070b4" stroke-width="0.85" stroke-opacity="0.8" fill="none"/>
<path d="M244.20,361.50H248.60M246.40,361.50V376.00M244.20,376.00H248.60" stroke="#a070b4" stroke-width="0.85" stroke-opacity="0.8" fill="none"/>
<path d="M145.80,393.00H150.20M148.00,393.00V399.00M145.80,399.00H150.20" stroke="#a070b4" stroke-width="0.85" stroke-opacity="0.8" fill="none"/>
<polygon points="46.60,406.60 52.60,406.60 49.60,411.70" fill="#fff" stroke="#a070b4" stroke-width="0.9"/>
<polygon points="66.28,405.60 72.28,405.60 69.28,410.70" fill="#fff" stroke="#a070b4" stroke-width="0.9"/>
<polygon points="85.96,404.00 91.96,404.00 88.96,409.10" fill="#fff" stroke="#a070b4" stroke-width="0.9"/>
<polygon points="105.64,401.00 111.64,401.00 108.64,406.10" fill="#fff" stroke="#a070b4" stroke-width="0.9"/>
<polygon points="125.32,398.50 131.32,398.50 128.32,403.60" fill="#fff" stroke="#a070b4" stroke-width="0.9"/>
<polygon points="145.00,394.00 151.00,394.00 148.00,399.10" fill="#fff" stroke="#a070b4" stroke-width="0.9"/>
<polygon points="194.20,380.30 200.20,380.30 197.20,385.40" fill="#fff" stroke="#a070b4" stroke-width="0.9"/>
<polygon points="213.88,371.00 219.88,371.00 216.88,376.10" fill="#fff" stroke="#a070b4" stroke-width="0.9"/>
<polygon points="243.40,366.50 249.40,366.50 246.40,371.60" fill="#fff" stroke="#a070b4" stroke-width="0.9"/>
<polyline points="49.60,408.60 69.28,407.50 88.96,406.00 108.64,405.20 128.32,405.70 148.00,405.40 197.20,407.80 216.88,407.80 246.40,406.30" fill="none" stroke="#6a2a7e" stroke-width="0.8"/>
<polygon points="46.70,406.60 52.50,406.60 49.60,411.60" fill="#6a2a7e"/>
<polygon points="66.38,405.50 72.18,405.50 69.28,410.50" fill="#6a2a7e"/>
<polygon points="86.06,404.00 91.86,404.00 88.96,409.00" fill="#6a2a7e"/>
<polygon points="105.74,403.20 111.54,403.20 108.64,408.20" fill="#6a2a7e"/>
<polygon points="125.42,403.70 131.22,403.70 128.32,408.70" fill="#6a2a7e"/>
<polygon points="145.10,403.40 150.90,403.40 148.00,408.40" fill="#6a2a7e"/>
<polygon points="194.30,405.80 200.10,405.80 197.20,410.80" fill="#6a2a7e"/>
<polygon points="213.98,405.80 219.78,405.80 216.88,410.80" fill="#6a2a7e"/>
<polygon points="243.50,404.30 249.30,404.30 246.40,409.30" fill="#6a2a7e"/>
<polyline points="49.60,408.60 69.28,407.50 88.96,406.30 108.64,404.50 128.32,403.20 148.00,401.80 197.20,398.60 216.88,394.60 246.40,392.50" fill="none" stroke="#2a5e2c" stroke-width="0.8"/>
<path d="M244.20,390.00H248.60M246.40,390.00V395.00M244.20,395.00H248.60" stroke="#2a5e2c" stroke-width="0.85" stroke-opacity="0.8" fill="none"/>
<path d="M214.68,392.00H219.08M216.88,392.00V397.00M214.68,397.00H219.08" stroke="#2a5e2c" stroke-width="0.85" stroke-opacity="0.8" fill="none"/>
<rect x="46.95" y="405.95" width="5.30" height="5.30" fill="#2a5e2c"/>
<rect x="66.63" y="404.85" width="5.30" height="5.30" fill="#2a5e2c"/>
<rect x="86.31" y="403.65" width="5.30" height="5.30" fill="#2a5e2c"/>
<rect x="105.99" y="401.85" width="5.30" height="5.30" fill="#2a5e2c"/>
<rect x="125.67" y="400.55" width="5.30" height="5.30" fill="#2a5e2c"/>
<rect x="145.35" y="399.15" width="5.30" height="5.30" fill="#2a5e2c"/>
<rect x="194.55" y="395.95" width="5.30" height="5.30" fill="#2a5e2c"/>
<rect x="214.23" y="391.95" width="5.30" height="5.30" fill="#2a5e2c"/>
<rect x="243.75" y="389.85" width="5.30" height="5.30" fill="#2a5e2c"/>
<polyline points="49.60,408.60 69.28,407.30 88.96,405.60 108.64,402.50 128.32,398.50 148.00,392.00 197.20,372.50 216.88,361.40 246.40,354.00" fill="none" stroke="#2f4f9f" stroke-width="0.8"/>
<path d="M244.20,349.50H248.60M246.40,349.50V358.50M244.20,358.50H248.60" stroke="#2f4f9f" stroke-width="0.85" stroke-opacity="0.8" fill="none"/>
<path d="M214.68,357.50H219.08M216.88,357.50V365.30M214.68,365.30H219.08" stroke="#2f4f9f" stroke-width="0.85" stroke-opacity="0.8" fill="none"/>
<rect x="46.95" y="405.95" width="5.30" height="5.30" fill="#2f4f9f"/>
<rect x="66.63" y="404.65" width="5.30" height="5.30" fill="#2f4f9f"/>
<rect x="86.31" y="402.95" width="5.30" height="5.30" fill="#2f4f9f"/>
<rect x="105.99" y="399.85" width="5.30" height="5.30" fill="#2f4f9f"/>
<rect x="125.67" y="395.85" width="5.30" height="5.30" fill="#2f4f9f"/>
<rect x="145.35" y="389.35" width="5.30" height="5.30" fill="#2f4f9f"/>
<rect x="194.55" y="369.85" width="5.30" height="5.30" fill="#2f4f9f"/>
<rect x="214.23" y="358.75" width="5.30" height="5.30" fill="#2f4f9f"/>
<rect x="243.75" y="351.35" width="5.30" height="5.30" fill="#2f4f9f"/>
<polyline points="49.60,408.60 69.28,407.30 88.96,405.80 108.64,403.50 128.32,399.50 148.00,393.00 197.20,372.20 216.88,361.40 246.40,350.00" fill="none" stroke="#3aaa48" stroke-width="0.8"/>
<path d="M244.20,343.00H248.60M246.40,343.00V357.00M244.20,357.00H248.60" stroke="#3aaa48" stroke-width="0.85" stroke-opacity="0.8" fill="none"/>
<path d="M214.68,356.00H219.08M216.88,356.00V366.80M214.68,366.80H219.08" stroke="#3aaa48" stroke-width="0.85" stroke-opacity="0.8" fill="none"/>
<path d="M195.00,368.00H199.40M197.20,368.00V376.50M195.00,376.50H199.40" stroke="#3aaa48" stroke-width="0.85" stroke-opacity="0.8" fill="none"/>
<rect x="46.95" y="405.95" width="5.30" height="5.30" fill="#3aaa48"/>
<rect x="66.63" y="404.65" width="5.30" height="5.30" fill="#3aaa48"/>
<rect x="86.31" y="403.15" width="5.30" height="5.30" fill="#3aaa48"/>
<rect x="105.99" y="400.85" width="5.30" height="5.30" fill="#3aaa48"/>
<rect x="125.67" y="396.85" width="5.30" height="5.30" fill="#3aaa48"/>
<rect x="145.35" y="390.35" width="5.30" height="5.30" fill="#3aaa48"/>
<rect x="194.55" y="369.55" width="5.30" height="5.30" fill="#3aaa48"/>
<rect x="214.23" y="358.75" width="5.30" height="5.30" fill="#3aaa48"/>
<rect x="243.75" y="347.35" width="5.30" height="5.30" fill="#3aaa48"/>
<polyline points="49.60,408.60 69.28,407.20 88.96,405.40 108.64,401.00 128.32,397.00 148.00,389.20 197.20,359.20 216.88,344.80 246.40,328.50" fill="none" stroke="#8b8fd0" stroke-width="0.8"/>
<path d="M244.20,322.30H248.60M246.40,322.30V334.60M244.20,334.60H248.60" stroke="#8b8fd0" stroke-width="0.85" stroke-opacity="0.8" fill="none"/>
<path d="M214.68,339.00H219.08M216.88,339.00V351.50M214.68,351.50H219.08" stroke="#8b8fd0" stroke-width="0.85" stroke-opacity="0.8" fill="none"/>
<path d="M195.00,355.00H199.40M197.20,355.00V363.40M195.00,363.40H199.40" stroke="#8b8fd0" stroke-width="0.85" stroke-opacity="0.8" fill="none"/>
<path d="M145.80,387.00H150.20M148.00,387.00V391.50M145.80,391.50H150.20" stroke="#8b8fd0" stroke-width="0.85" stroke-opacity="0.8" fill="none"/>
<rect x="46.95" y="405.95" width="5.30" height="5.30" fill="#8b8fd0"/>
<rect x="66.63" y="404.55" width="5.30" height="5.30" fill="#8b8fd0"/>
<rect x="86.31" y="402.75" width="5.30" height="5.30" fill="#8b8fd0"/>
<rect x="105.99" y="398.35" width="5.30" height="5.30" fill="#8b8fd0"/>
<rect x="125.67" y="394.35" width="5.30" height="5.30" fill="#8b8fd0"/>
<rect x="145.35" y="386.55" width="5.30" height="5.30" fill="#8b8fd0"/>
<rect x="194.55" y="356.55" width="5.30" height="5.30" fill="#8b8fd0"/>
<rect x="214.23" y="342.15" width="5.30" height="5.30" fill="#8b8fd0"/>
<rect x="243.75" y="325.85" width="5.30" height="5.30" fill="#8b8fd0"/>
<polyline points="49.60,408.50 69.28,407.30 88.96,405.10 108.64,398.90 128.32,393.80 148.00,384.60 197.20,352.50 216.88,329.40 246.40,306.00" fill="none" stroke="#161616" stroke-width="0.8"/>
<path d="M244.20,299.80H248.60M246.40,299.80V312.00M244.20,312.00H248.60" stroke="#161616" stroke-width="0.85" stroke-opacity="0.8" fill="none"/>
<path d="M214.68,323.80H219.08M216.88,323.80V334.60M214.68,334.60H219.08" stroke="#161616" stroke-width="0.85" stroke-opacity="0.8" fill="none"/>
<path d="M195.00,348.50H199.40M197.20,348.50V356.00M195.00,356.00H199.40" stroke="#161616" stroke-width="0.85" stroke-opacity="0.8" fill="none"/>
<path d="M145.80,382.50H150.20M148.00,382.50V386.50M145.80,386.50H150.20" stroke="#161616" stroke-width="0.85" stroke-opacity="0.8" fill="none"/>
<circle cx="49.60" cy="408.50" r="2.90" fill="#161616"/>
<circle cx="69.28" cy="407.30" r="2.90" fill="#161616"/>
<circle cx="88.96" cy="405.10" r="2.90" fill="#161616"/>
<circle cx="108.64" cy="398.90" r="2.90" fill="#161616"/>
<circle cx="128.32" cy="393.80" r="2.90" fill="#161616"/>
<circle cx="148.00" cy="384.60" r="2.90" fill="#161616"/>
<circle cx="197.20" cy="352.50" r="2.90" fill="#161616"/>
<circle cx="216.88" cy="329.40" r="2.90" fill="#161616"/>
<circle cx="246.40" cy="306.00" r="2.90" fill="#161616"/>
<path d="M255.4,367.5H260.2V406.5H255.4" fill="none" stroke="#555" stroke-width="0.9"/>
<text x="267.6" y="399.0" font-size="7.4" fill="#231f20"><tspan font-style="italic">P</tspan> &lt; 0.0001</text>
<line x1="293.40" y1="294.70" x2="302.00" y2="294.70" stroke="#161616" stroke-width="0.8" />
<circle cx="297.60" cy="294.70" r="2.90" fill="#161616"/>
<text x="306.50" y="297.40" font-size="7.55" text-anchor="start" font-weight="normal" fill="#231f20" >Vehicle once daily x 6</text>
<line x1="293.40" y1="306.32" x2="302.00" y2="306.32" stroke="#3aaa48" stroke-width="0.8" />
<rect x="294.95" y="303.67" width="5.30" height="5.30" fill="#3aaa48"/>
<text x="306.50" y="309.02" font-size="7.55" text-anchor="start" font-weight="normal" fill="#231f20" >RP-3500 5 mg/kg once daily x 3</text>
<line x1="293.40" y1="317.94" x2="302.00" y2="317.94" stroke="#2a5e2c" stroke-width="0.8" />
<rect x="294.95" y="315.29" width="5.30" height="5.30" fill="#2a5e2c"/>
<text x="306.50" y="320.64" font-size="7.55" text-anchor="start" font-weight="normal" fill="#231f20" >RP-3500 30 mg/kg once daily x 3</text>
<line x1="293.40" y1="329.56" x2="302.00" y2="329.56" stroke="#8b8fd0" stroke-width="0.8" />
<rect x="294.95" y="326.91" width="5.30" height="5.30" fill="#8b8fd0"/>
<text x="306.50" y="332.26" font-size="7.55" text-anchor="start" font-weight="normal" fill="#231f20" >Niraparib 50 mg/kg once daily x 3</text>
<line x1="293.40" y1="341.18" x2="302.00" y2="341.18" stroke="#2f4f9f" stroke-width="0.8" />
<rect x="294.95" y="338.53" width="5.30" height="5.30" fill="#2f4f9f"/>
<text x="306.50" y="343.88" font-size="7.55" text-anchor="start" font-weight="normal" fill="#231f20" >Niraparib 75 mg/kg 5 days on/2 days off</text>
<line x1="293.40" y1="352.80" x2="302.00" y2="352.80" stroke="#6a2a7e" stroke-width="0.8" />
<polygon points="294.70,350.80 300.50,350.80 297.60,355.80" fill="#6a2a7e"/>
<text x="306.50" y="355.50" font-size="7.55" text-anchor="start" font-weight="normal" fill="#231f20" >Niraparib (50) + RP-3500 (5) concomitant</text>
<line x1="293.40" y1="364.42" x2="302.00" y2="364.42" stroke="#a070b4" stroke-width="0.8" />
<polygon points="294.60,362.42 300.60,362.42 297.60,367.52" fill="#fff" stroke="#a070b4" stroke-width="0.9"/>
<text x="306.50" y="367.12" font-size="7.55" text-anchor="start" font-weight="normal" fill="#231f20" >Niraparib (50) then RP-3500 (5) sequential</text>
<text x="2.00" y="467.50" font-size="16.6" text-anchor="start" font-weight="bold" fill="#111" style="stroke-width:0.1px">D</text>
<text x="148.20" y="464.00" font-size="9.8" text-anchor="middle" font-weight="normal" fill="#231f20" >RBCs</text>
<rect x="57.90" y="503.82" width="16.80" height="64.48" fill="#8a8a8a" stroke="#333" stroke-width="1.0" />
<path d="M62.70,501.76H69.90M66.30,501.76V503.82M62.70,503.82H69.90" stroke="#222" stroke-width="0.9" fill="none"/>
<line x1="66.30" y1="568.30" x2="66.30" y2="572.50" stroke="#161616" stroke-width="1.0" />
<text transform="translate(69.10,578.90) rotate(-45)" font-size="7.6" text-anchor="end" fill="#231f20">Vehicle once daily x 6</text>
<rect x="84.08" y="503.54" width="16.80" height="64.76" fill="#3aaa48" stroke="#333" stroke-width="1.0" />
<path d="M88.88,501.35H96.08M92.48,501.35V503.54M88.88,503.54H96.08" stroke="#222" stroke-width="0.9" fill="none"/>
<text x="92.48" y="498.00" font-size="7.4" text-anchor="middle" font-weight="normal" fill="#231f20" >ns</text>
<line x1="92.48" y1="568.30" x2="92.48" y2="572.50" stroke="#161616" stroke-width="1.0" />
<text transform="translate(95.28,578.90) rotate(-45)" font-size="7.55" text-anchor="end" fill="#231f20">RP-3500 5 mg/kg once daily x 3</text>
<rect x="110.26" y="513.97" width="16.80" height="54.33" fill="#2a5e2c" stroke="#222" stroke-width="1.0" />
<path d="M115.06,512.05H122.26M118.66,512.05V513.97M115.06,513.97H122.26" stroke="#222" stroke-width="0.9" fill="none"/>
<text x="118.31" y="511.40" font-size="8.5" text-anchor="middle" fill="#333" style="stroke:none" letter-spacing="-0.5">***</text>
<line x1="118.66" y1="568.30" x2="118.66" y2="572.50" stroke="#161616" stroke-width="1.0" />
<text transform="translate(121.46,578.90) rotate(-45)" font-size="7.55" text-anchor="end" fill="#231f20">RP-3500 30 mg/kg once daily x 3</text>
<rect x="136.44" y="516.16" width="16.80" height="52.14" fill="#8b8fd0" stroke="#333" stroke-width="1.0" />
<path d="M141.24,514.52H148.44M144.84,514.52V516.16M141.24,516.16H148.44" stroke="#222" stroke-width="0.9" fill="none"/>
<text x="144.49" y="511.60" font-size="8.5" text-anchor="middle" fill="#333" style="stroke:none" letter-spacing="-0.5">****</text>
<line x1="144.84" y1="568.30" x2="144.84" y2="572.50" stroke="#161616" stroke-width="1.0" />
<text transform="translate(147.64,578.90) rotate(-45)" font-size="7.55" text-anchor="end" fill="#231f20">Niraparib 50 mg/kg once daily x 3</text>
<rect x="162.62" y="513.15" width="16.80" height="55.15" fill="#8a2f8e" stroke="#333" stroke-width="1.0" />
<path d="M167.42,511.50H174.62M171.02,511.50V513.15M167.42,513.15H174.62" stroke="#222" stroke-width="0.9" fill="none"/>
<text x="170.67" y="511.40" font-size="8.5" text-anchor="middle" fill="#333" style="stroke:none" letter-spacing="-0.5">***</text>
<line x1="171.02" y1="568.30" x2="171.02" y2="572.50" stroke="#161616" stroke-width="1.0" />
<text transform="translate(173.82,578.90) rotate(-45)" font-size="7.05" text-anchor="end" fill="#231f20">Niraparib (50) + RP-3500 (5) concomitant</text>
<rect x="188.80" y="518.50" width="16.80" height="49.80" fill="#fff" stroke="#74468a" stroke-width="1.0" />
<path d="M193.60,516.44H200.80M197.20,516.44V518.50M193.60,518.50H200.80" stroke="#222" stroke-width="0.9" fill="none"/>
<text x="196.85" y="511.60" font-size="8.5" text-anchor="middle" fill="#333" style="stroke:none" letter-spacing="-0.5">****</text>
<line x1="197.20" y1="568.30" x2="197.20" y2="572.50" stroke="#161616" stroke-width="1.0" />
<text transform="translate(200.00,578.90) rotate(-45)" font-size="7.0" text-anchor="end" fill="#231f20">Niraparib (50) RP then RP-3500 (5) sequential</text>
<rect x="214.98" y="549.78" width="16.80" height="18.52" fill="#2f4f9f" stroke="#222" stroke-width="1.0" />
<path d="M219.78,546.35H226.98M223.38,546.35V549.78M219.78,549.78H226.98" stroke="#222" stroke-width="0.9" fill="none"/>
<text x="223.03" y="545.70" font-size="8.5" text-anchor="middle" fill="#333" style="stroke:none" letter-spacing="-0.5">****</text>
<line x1="223.38" y1="568.30" x2="223.38" y2="572.50" stroke="#161616" stroke-width="1.0" />
<text transform="translate(226.18,578.90) rotate(-45)" font-size="7.45" text-anchor="end" fill="#231f20">Niraparib 75 mg/kg, once daily x 5 days on/2 days off</text>
<line x1="48.90" y1="471.30" x2="48.90" y2="573.30" stroke="#161616" stroke-width="1.2" />
<line x1="48.40" y1="568.30" x2="242.18" y2="568.30" stroke="#161616" stroke-width="1.2" />
<line x1="43.90" y1="568.30" x2="48.90" y2="568.30" stroke="#161616" stroke-width="1.1" />
<text x="41.70" y="571.60" font-size="9.2" text-anchor="end" font-weight="normal" fill="#231f20" >4</text>
<line x1="43.90" y1="540.86" x2="48.90" y2="540.86" stroke="#161616" stroke-width="1.1" />
<text x="41.70" y="544.16" font-size="9.2" text-anchor="end" font-weight="normal" fill="#231f20" >6</text>
<line x1="43.90" y1="513.42" x2="48.90" y2="513.42" stroke="#161616" stroke-width="1.1" />
<text x="41.70" y="516.72" font-size="9.2" text-anchor="end" font-weight="normal" fill="#231f20" >8</text>
<line x1="43.90" y1="485.98" x2="48.90" y2="485.98" stroke="#161616" stroke-width="1.1" />
<text x="41.70" y="489.28" font-size="9.2" text-anchor="end" font-weight="normal" fill="#231f20" >10</text>
<text transform="translate(12.50,522.9) rotate(-90)" font-size="10" text-anchor="middle" fill="#231f20">Number of cells</text>
<text transform="translate(22.90,521.6) rotate(-90)" font-size="9.7" text-anchor="middle" fill="#231f20">(×10<tspan font-size="6" dy="-3.4">12</tspan><tspan dy="3.4">)/L</tspan></text>
<line x1="53.40" y1="479.50" x2="237.50" y2="479.50" stroke="#2a2a2a" stroke-width="1.0" stroke-dasharray="1.1,1.15"/>
<line x1="53.40" y1="510.90" x2="237.50" y2="510.90" stroke="#2a2a2a" stroke-width="1.0" stroke-dasharray="1.1,1.15"/>
<path d="M171.02,503.3V498.5H197.20V503.3" fill="none" stroke="#444" stroke-width="0.8"/>
<text x="184.11" y="494.20" font-size="7.4" text-anchor="middle" font-weight="normal" fill="#231f20" >ns</text>
<text x="270.60" y="467.50" font-size="16.6" text-anchor="start" font-weight="bold" fill="#111" style="stroke-width:0.1px">E</text>
<text x="419.40" y="464.00" font-size="9.8" text-anchor="middle" font-weight="normal" fill="#231f20" >Reticulocytes</text>
<rect x="333.50" y="536.87" width="16.80" height="31.43" fill="#8a8a8a" stroke="#333" stroke-width="1.0" />
<path d="M338.30,535.22H345.50M341.90,535.22V538.53M338.30,538.53H345.50" stroke="#222" stroke-width="0.9" fill="none"/>
<line x1="341.90" y1="568.30" x2="341.90" y2="572.50" stroke="#161616" stroke-width="1.0" />
<text transform="translate(345.20,579.40) rotate(-45)" font-size="7.6" text-anchor="end" fill="#231f20">Vehicle once daily x 6</text>
<rect x="359.63" y="524.47" width="16.80" height="43.83" fill="#3aaa48" stroke="#333" stroke-width="1.0" />
<path d="M364.43,521.99H371.63M368.03,521.99V526.95M364.43,526.95H371.63" stroke="#222" stroke-width="0.9" fill="none"/>
<text x="367.68" y="522.00" font-size="8.5" text-anchor="middle" fill="#333" style="stroke:none" letter-spacing="-0.5">*</text>
<line x1="368.03" y1="568.30" x2="368.03" y2="572.50" stroke="#161616" stroke-width="1.0" />
<text transform="translate(371.33,579.40) rotate(-45)" font-size="7.55" text-anchor="end" fill="#231f20">RP-3500 5 mg/kg once daily x 3</text>
<rect x="385.76" y="520.33" width="16.80" height="47.97" fill="#2a5e2c" stroke="#222" stroke-width="1.0" />
<path d="M390.56,516.61H397.76M394.16,516.61V521.99M390.56,521.99H397.76" stroke="#222" stroke-width="0.9" fill="none"/>
<text x="393.81" y="517.40" font-size="8.5" text-anchor="middle" fill="#333" style="stroke:none" letter-spacing="-0.5">**</text>
<line x1="394.16" y1="568.30" x2="394.16" y2="572.50" stroke="#161616" stroke-width="1.0" />
<text transform="translate(397.46,579.40) rotate(-45)" font-size="7.55" text-anchor="end" fill="#231f20">RP-3500 30 mg/kg once daily x 3</text>
<rect x="411.89" y="545.97" width="16.80" height="22.33" fill="#8b8fd0" stroke="#333" stroke-width="1.0" />
<path d="M416.69,542.25H423.89M420.29,542.25V549.69M416.69,549.69H423.89" stroke="#222" stroke-width="0.9" fill="none"/>
<text x="420.29" y="540.20" font-size="7.4" text-anchor="middle" font-weight="normal" fill="#231f20" >ns</text>
<line x1="420.29" y1="568.30" x2="420.29" y2="572.50" stroke="#161616" stroke-width="1.0" />
<text transform="translate(423.59,579.40) rotate(-45)" font-size="7.55" text-anchor="end" fill="#231f20">Niraparib 50 mg/kg once daily x 3</text>
<rect x="438.02" y="495.11" width="16.80" height="73.19" fill="#8a2f8e" stroke="#333" stroke-width="1.0" />
<path d="M442.82,486.01H450.02M446.42,486.01V504.21M442.82,504.21H450.02" stroke="#222" stroke-width="0.9" fill="none"/>
<text x="446.07" y="484.40" font-size="8.5" text-anchor="middle" fill="#333" style="stroke:none" letter-spacing="-0.5">****</text>
<line x1="446.42" y1="568.30" x2="446.42" y2="572.50" stroke="#161616" stroke-width="1.0" />
<text transform="translate(449.72,579.40) rotate(-45)" font-size="7.05" text-anchor="end" fill="#231f20">Niraparib (50) + RP-3500 (5) concomitant</text>
<rect x="464.15" y="549.28" width="16.80" height="19.02" fill="#fff" stroke="#74468a" stroke-width="1.0" />
<path d="M468.95,544.73H476.15M472.55,544.73V553.41M468.95,553.41H476.15" stroke="#222" stroke-width="0.9" fill="none"/>
<text x="472.20" y="541.40" font-size="8.5" text-anchor="middle" fill="#333" style="stroke:none" letter-spacing="-0.5">*</text>
<line x1="472.55" y1="568.30" x2="472.55" y2="572.50" stroke="#161616" stroke-width="1.0" />
<text transform="translate(475.85,579.40) rotate(-45)" font-size="7.0" text-anchor="end" fill="#231f20">Niraparib (50) RP then RP-3500 (5) sequential</text>
<rect x="490.28" y="566.23" width="16.80" height="2.07" fill="#2f4f9f" stroke="#222" stroke-width="1.0" />
<path d="M495.08,565.41H502.28M498.68,565.41V566.65M495.08,566.65H502.28" stroke="#222" stroke-width="0.9" fill="none"/>
<text x="498.33" y="563.50" font-size="8.5" text-anchor="middle" fill="#333" style="stroke:none" letter-spacing="-0.5">****</text>
<line x1="498.68" y1="568.30" x2="498.68" y2="572.50" stroke="#161616" stroke-width="1.0" />
<text transform="translate(501.98,579.40) rotate(-45)" font-size="7.45" text-anchor="end" fill="#231f20">Niraparib 75 mg/kg, once daily x 5 days on/2 days off</text>
<line x1="324.80" y1="470.70" x2="324.80" y2="573.30" stroke="#161616" stroke-width="1.2" />
<line x1="324.30" y1="568.30" x2="517.48" y2="568.30" stroke="#161616" stroke-width="1.2" />
<line x1="319.80" y1="568.30" x2="324.80" y2="568.30" stroke="#161616" stroke-width="1.1" />
<text x="317.60" y="571.60" font-size="9.2" text-anchor="end" font-weight="normal" fill="#231f20" >0.0</text>
<line x1="319.80" y1="551.76" x2="324.80" y2="551.76" stroke="#161616" stroke-width="1.1" />
<text x="317.60" y="555.06" font-size="9.2" text-anchor="end" font-weight="normal" fill="#231f20" >0.2</text>
<line x1="319.80" y1="535.22" x2="324.80" y2="535.22" stroke="#161616" stroke-width="1.1" />
<text x="317.60" y="538.52" font-size="9.2" text-anchor="end" font-weight="normal" fill="#231f20" >0.4</text>
<line x1="319.80" y1="518.68" x2="324.80" y2="518.68" stroke="#161616" stroke-width="1.1" />
<text x="317.60" y="521.98" font-size="9.2" text-anchor="end" font-weight="normal" fill="#231f20" >0.6</text>
<line x1="319.80" y1="502.14" x2="324.80" y2="502.14" stroke="#161616" stroke-width="1.1" />
<text x="317.60" y="505.44" font-size="9.2" text-anchor="end" font-weight="normal" fill="#231f20" >0.8</text>
<line x1="319.80" y1="485.60" x2="324.80" y2="485.60" stroke="#161616" stroke-width="1.1" />
<text x="317.60" y="488.90" font-size="9.2" text-anchor="end" font-weight="normal" fill="#231f20" >1.0</text>
<text transform="translate(283.90,522.9) rotate(-90)" font-size="10" text-anchor="middle" fill="#231f20">Number of cells</text>
<text transform="translate(294.30,521.6) rotate(-90)" font-size="9.7" text-anchor="middle" fill="#231f20">(×10<tspan font-size="6" dy="-3.4">12</tspan><tspan dy="3.4">)/L</tspan></text>
</svg>
</body></html>
